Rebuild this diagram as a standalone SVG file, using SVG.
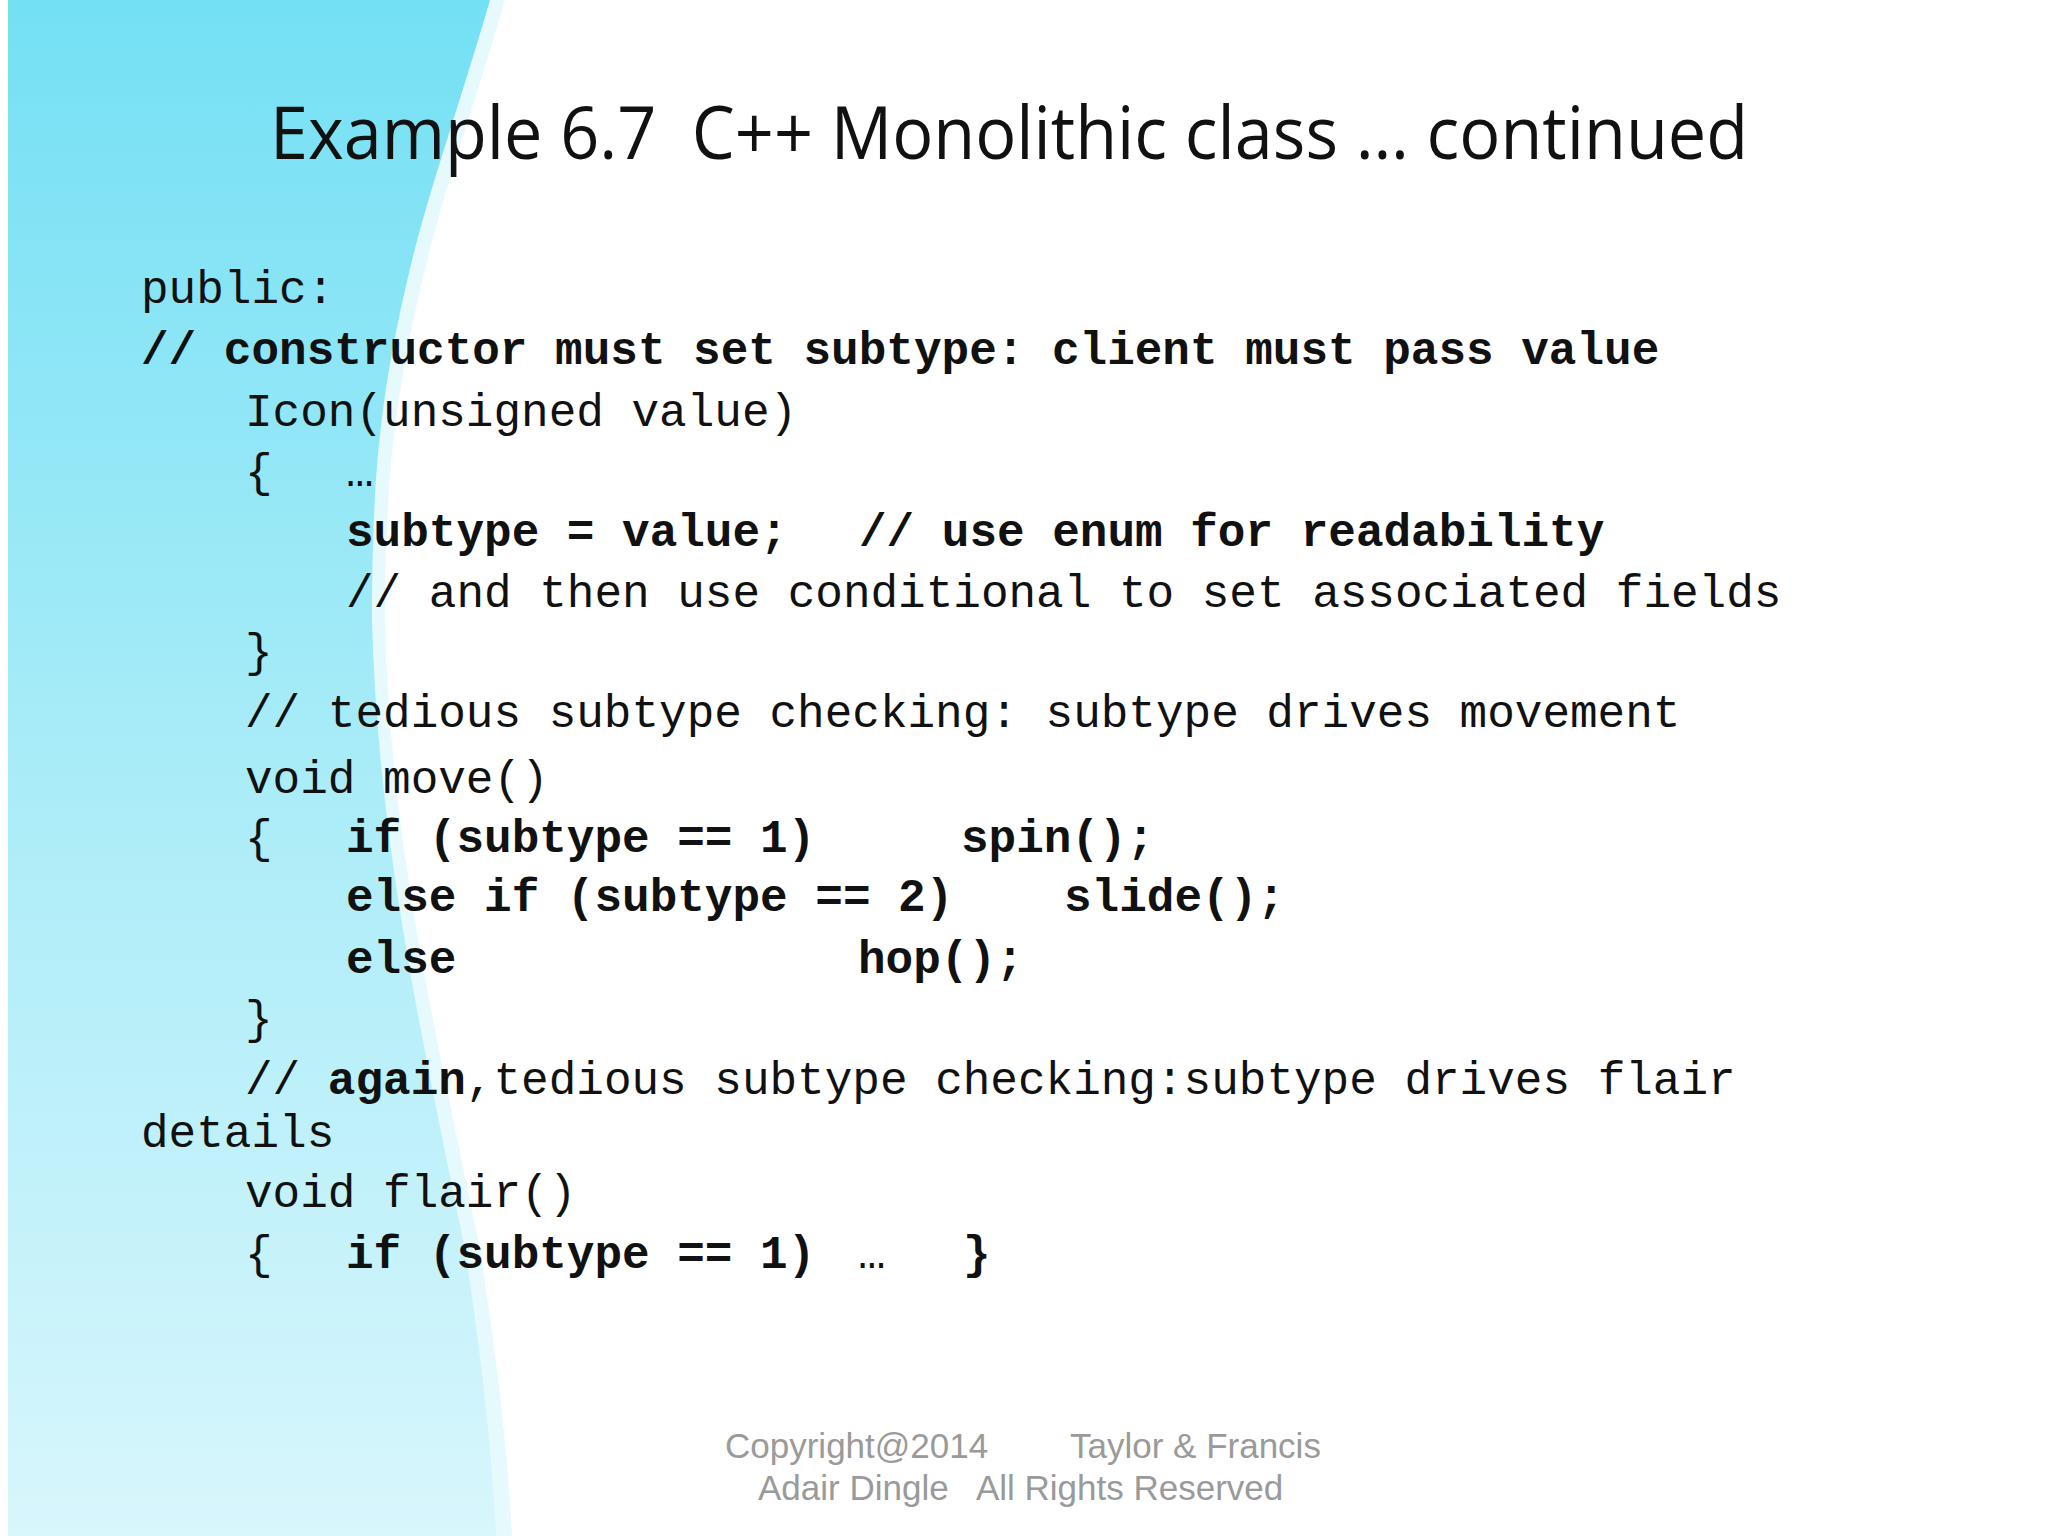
<svg xmlns="http://www.w3.org/2000/svg" width="2048" height="1536" viewBox="0 0 2048 1536" xml:space="preserve">
<defs>
<linearGradient id="g" x1="0" y1="0" x2="0" y2="1">
<stop offset="0" stop-color="#74e0f4"/><stop offset="0.5" stop-color="#a9ecf8"/><stop offset="1" stop-color="#d8f6fc"/>
</linearGradient>
<style>
text{white-space:pre}
.c{font-family:"Liberation Mono","Courier New",monospace;font-size:46px;fill:#111}
.b{font-weight:bold}
.f{font-family:"Liberation Sans",Arial,sans-serif;font-size:35px;fill:#9a9a9a}
</style>
</defs>
<rect width="2048" height="1536" fill="#fff"/>
<path d="M8 0 H505 C470 120 440 200 420 290 C395 400 385 480 385 620 C390 850 440 1050 480 1250 C500 1380 508 1460 512 1536 H8 Z" fill="#e6f9fd"/>
<path d="M8 0 H490 C455 120 425 200 405 290 C380 400 372 480 372 620 C378 850 425 1050 465 1250 C485 1380 492 1460 496 1536 H8 Z" fill="url(#g)"/>
<text x="270" y="159" font-family="Open Sans,Calibri,sans-serif" font-size="74" fill="#111" textLength="1478" lengthAdjust="spacingAndGlyphs">Example 6.7  C++ Monolithic class … continued</text>
<g id="code">
<text class="c" x="141" y="303">public:</text>
<text class="c b" x="141" y="364">// constructor must set subtype: client must pass value</text>
<text class="c" x="245" y="426">Icon(unsigned value)</text>
<text class="c" x="245" y="486">{</text>
<text class="c" x="346" y="486">…</text>
<text class="c b" x="346" y="546">subtype = value;</text>
<text class="c b" x="859" y="546">// use enum for readability</text>
<text class="c" x="346" y="607">// and then use conditional to set associated fields</text>
<text class="c" x="245" y="666">}</text>
<text class="c" x="245" y="727">// tedious subtype checking: subtype drives movement</text>
<text class="c" x="245" y="793">void move()</text>
<text class="c" x="245" y="852">{</text>
<text class="c b" x="346" y="852">if (subtype == 1)</text>
<text class="c b" x="961" y="852">spin();</text>
<text class="c b" x="346" y="911">else if (subtype == 2)</text>
<text class="c b" x="1064" y="911">slide();</text>
<text class="c b" x="346" y="973">else</text>
<text class="c b" x="858" y="973">hop();</text>
<text class="c" x="245" y="1033">}</text>
<text class="c" x="245" y="1094">// <tspan class="b">again</tspan>,tedious subtype checking:subtype drives flair</text>
<text class="c" x="141" y="1147">details</text>
<text class="c" x="245" y="1207">void flair()</text>
<text class="c" x="245" y="1268">{</text>
<text class="c b" x="346" y="1268">if (subtype == 1)</text>
<text class="c" x="858" y="1268">…</text>
<text class="c b" x="963" y="1268">}</text>
</g>
<text class="f" x="725" y="1458">Copyright@2014</text>
<text class="f" x="1070" y="1458">Taylor &amp; Francis</text>
<text class="f" x="758" y="1500">Adair Dingle   All Rights Reserved</text>
</svg>
